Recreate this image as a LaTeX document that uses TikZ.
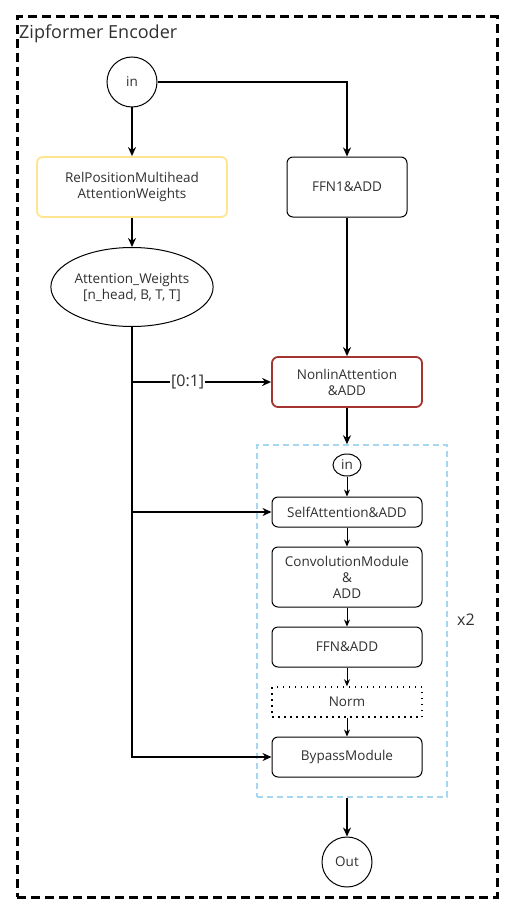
\documentclass[tikz,border=0pt]{standalone}
\usepackage{fontspec}
\setmainfont{Open Sans}
\usetikzlibrary{arrows.meta,shapes.geometric}
\definecolor{relyellow}{HTML}{FFE58F}
\definecolor{nonlinred}{HTML}{A3342F}
\definecolor{loopblue}{HTML}{A6D6F0}
\definecolor{labelgray}{HTML}{303030}
\begin{document}
\begin{tikzpicture}[x=1pt,y=-1pt,>={Stealth[length=9pt,width=8pt]},
    lbl/.style={font=\fontsize{13.5}{16}\selectfont,text=labelgray},
    blk/.style={draw,line width=1pt,rounded corners=6pt,align=center,inner sep=0pt,lbl},
    thick arr/.style={->,line width=2pt},
    thin arr/.style={->,line width=1pt,>={Stealth[length=7pt,width=6pt]}}]
  \useasboundingbox (0,0) rectangle (515,915);
  % frames
  \node (frame) [draw,line width=3pt,dash pattern=on 9pt off 5pt,minimum width=480pt,minimum height=880pt] at (257,457) {};
  \node (title) [anchor=west,font=\fontsize{18}{21}\selectfont,text=labelgray,inner sep=0pt] at (19,34) {Zipformer Encoder};
  \node (loop) [draw=loopblue,line width=1.5pt,dash pattern=on 6pt off 4pt,minimum width=190pt,minimum height=352pt] at (352,621) {};
  \node (x2) [font=\fontsize{16}{19}\selectfont,text=labelgray] at (466,620) {x2};
  % left column
  \node (in) [circle,draw,line width=1pt,minimum size=50pt,inner sep=0pt,lbl] at (132,82) {in};
  \node (rel) [blk,draw=relyellow,line width=1.8pt,minimum width=190pt,minimum height=60pt] at (132,187) {RelPositionMultihead\\AttentionWeights};
  \node (att) [ellipse,draw,line width=1pt,minimum width=139pt,minimum height=79pt,inner sep=0pt,align=center,lbl] at (132,287) {Attention\_Weights\\{}[n\_head, B, T, T]};
  % right column
  \node (ffn1) [blk,minimum width=120pt,minimum height=60pt] at (347,187) {FFN1\&ADD};
  \node (nonlin) [blk,draw=nonlinred,line width=1.8pt,minimum width=150pt,minimum height=50pt] at (347,382) {NonlinAttention\\\&ADD};
  \node (inb) [ellipse,draw,line width=1pt,minimum width=28pt,minimum height=22pt,inner sep=0pt,lbl] at (347,465) {in};
  \node (self) [blk,minimum width=150pt,minimum height=30pt] at (347,512) {SelfAttention\&ADD};
  \node (conv) [blk,minimum width=150pt,minimum height=60pt] at (347,577) {ConvolutionModule\\\&\\ADD};
  \node (ffn) [blk,minimum width=150pt,minimum height=40pt] at (347,647) {FFN\&ADD};
  \node (norm) [draw,line width=1.5pt,dash pattern=on 1.5pt off 4.5pt,minimum width=150pt,minimum height=30pt,inner sep=0pt,lbl] at (347,702) {Norm};
  \node (bypass) [blk,minimum width=150pt,minimum height=40pt] at (347,757) {BypassModule};
  \node (out) [circle,draw,line width=1pt,minimum size=50pt,inner sep=0pt,lbl] at (347,862) {Out};
  % connectors
  \draw [thick arr] (in) -- (rel);
  \draw [thick arr] (in.east) -| (ffn1.north);
  \draw [thick arr] (rel) -- (att);
  \draw [thick arr] (ffn1) -- (nonlin);
  \draw [thick arr] (att.south) |- (bypass.west);
  \draw [thick arr] (att.south |- nonlin.west) -- node [pos=0.4,fill=white,inner sep=1pt,font=\fontsize{16}{19}\selectfont,text=labelgray] {[0:1]} (nonlin.west);
  \draw [thick arr] (att.south |- self.west) -- (self.west);
  \draw [thick arr] (nonlin) -- (nonlin |- loop.north);
  \draw [thin arr] (inb) -- (self);
  \draw [thin arr] (self) -- (conv);
  \draw [thin arr] (conv) -- (ffn);
  \draw [thin arr] (ffn) -- (norm);
  \draw [thin arr] (norm) -- (bypass);
  \draw [thick arr] (out |- loop.south) -- (out);
\end{tikzpicture}
\end{document}
